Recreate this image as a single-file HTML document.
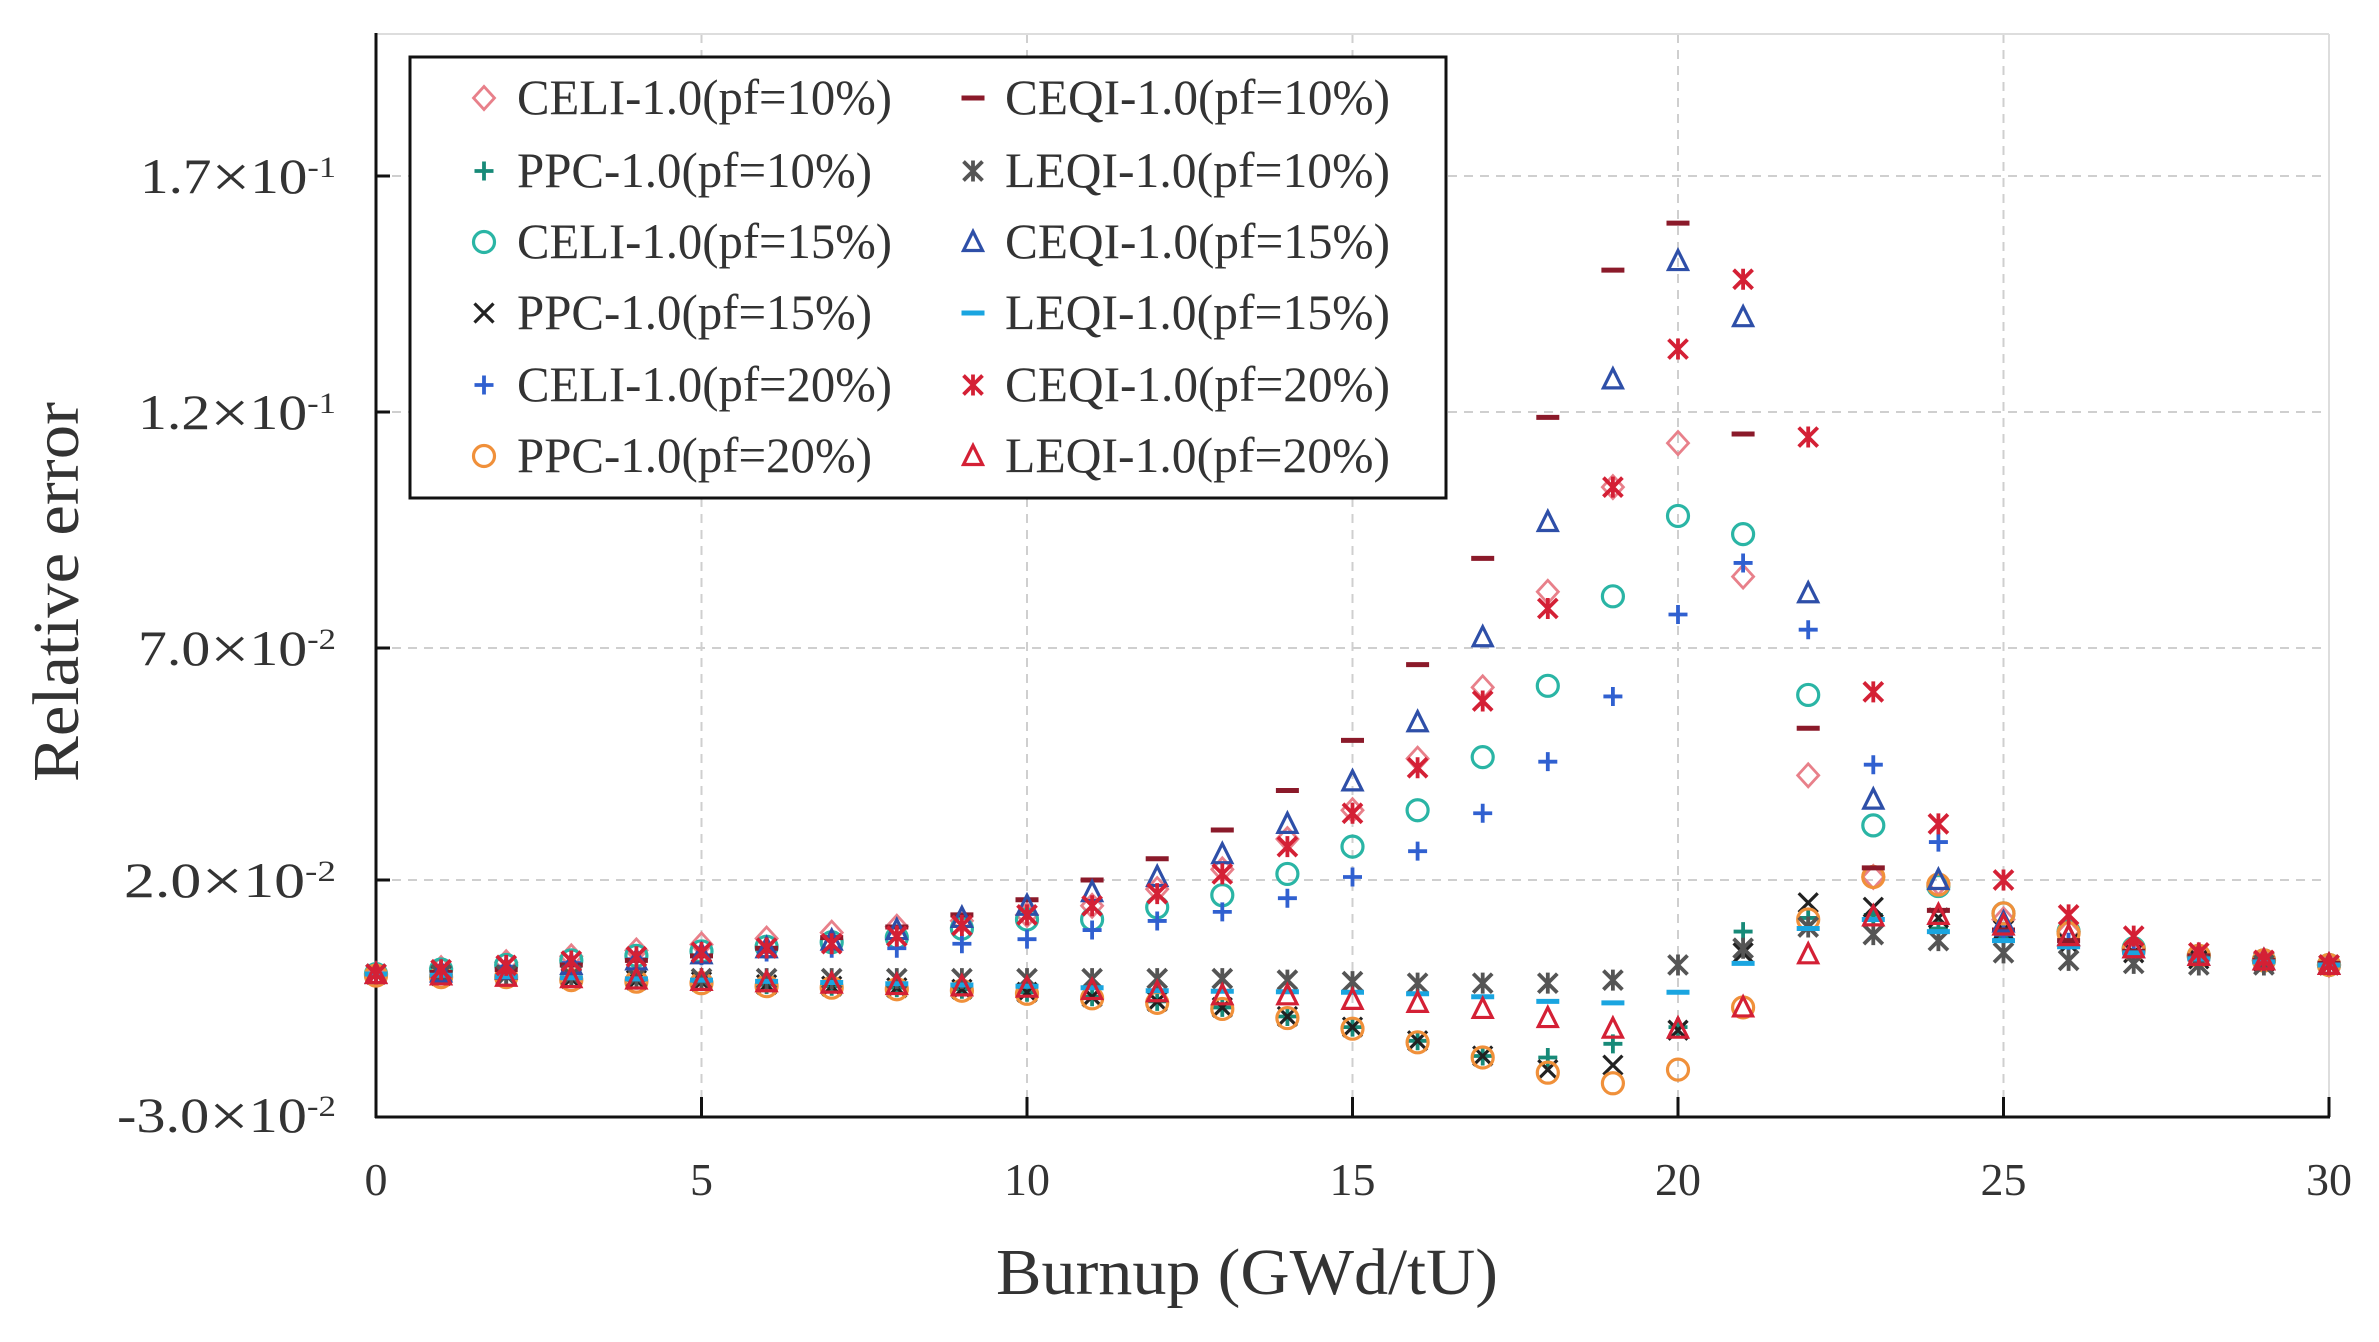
<!DOCTYPE html>
<html><head><meta charset="utf-8"><style>
html,body{margin:0;padding:0;background:#fff;}
svg{display:block;}
text{font-family:"Liberation Serif",serif;fill:#333;}
</style></head><body>
<svg id="s" width="2379" height="1342" xmlns="http://www.w3.org/2000/svg"></svg>
<script>
const S=document.getElementById('s');let h='';
const X=b=>376+b*65.1, Y=p=>880+(p-580)*1.517;
h+='<g stroke="#cfcfcf" stroke-width="2" stroke-dasharray="9,7" fill="none">';
for(const b of [5,10,15,20,25]) h+=`<line x1="${X(b)}" y1="34" x2="${X(b)}" y2="1117"/>`;
for(const y of [176,412,648,880]) h+=`<line x1="376" y1="${y}" x2="2329" y2="${y}"/>`;
h+='</g>';
h+='<line x1="376" y1="34" x2="2329" y2="34" stroke="#ddd" stroke-width="2"/><line x1="2329" y1="34" x2="2329" y2="1117" stroke="#ddd" stroke-width="2"/>';
h+='<line x1="376" y1="33" x2="376" y2="1118" stroke="#111" stroke-width="3"/><line x1="375" y1="1117" x2="2330" y2="1117" stroke="#111" stroke-width="3"/>';
for(const b of [5,10,15,20,25,30]) h+=`<line x1="${X(b)}" y1="1117" x2="${X(b)}" y2="1097" stroke="#111" stroke-width="3"/>`;
for(const y of [176,412,648,880]) h+=`<line x1="376" y1="${y}" x2="390" y2="${y}" stroke="#111" stroke-width="3"/>`;
const yl=[[176,'1.7','-1',140],[412,'1.2','-1',138],[648,'7.0','-2',138],[880,'2.0','-2',124],[1115,'-3.0','-2',117]];
for(const [y,m,e,x0] of yl) h+=`<text x="${x0}" y="${y+17}" font-size="50" textLength="${336-x0}" lengthAdjust="spacingAndGlyphs">${m}<tspan font-size="60" dy="4">×</tspan><tspan dy="-4">10</tspan><tspan font-size="30" dy="-16">${e}</tspan></text>`;
for(const b of [0,5,10,15,20,25,30]) h+=`<text x="${X(b)}" y="1195" font-size="46" text-anchor="middle">${b}</text>`;
h+='<text x="1247" y="1294" font-size="66" text-anchor="middle" textLength="502" lengthAdjust="spacingAndGlyphs">Burnup (GWd/tU)</text>';
h+='<text transform="translate(78,592) rotate(-90)" font-size="66" text-anchor="middle" textLength="380" lengthAdjust="spacingAndGlyphs">Relative error</text>';
function mk(t,x,y,c){const r=9.5;switch(t){
case 'dia':return `<path d="M${x} ${y-r-2}L${x+r+1} ${y}L${x} ${y+r+2}L${x-r-1} ${y}Z" fill="none" stroke="${c}" stroke-width="2.8"/>`;
case 'plus':return `<path d="M${x-r} ${y}H${x+r}M${x} ${y-r}V${y+r}" stroke="${c}" stroke-width="3.8"/>`;
case 'circ':return `<circle cx="${x}" cy="${y}" r="${r+1}" fill="none" stroke="${c}" stroke-width="3.2"/>`;
case 'x':return `<path d="M${x-r} ${y-r}L${x+r} ${y+r}M${x+r} ${y-r}L${x-r} ${y+r}" stroke="${c}" stroke-width="3.2"/>`;
case 'dash':return `<path d="M${x-r-2} ${y}H${x+r+2}" stroke="${c}" stroke-width="5"/>`;
case 'ast':return `<path d="M${x-r} ${y-r}L${x+r} ${y+r}M${x+r} ${y-r}L${x-r} ${y+r}M${x} ${y-r-1}V${y+r+1}" stroke="${c}" stroke-width="3.8"/>`;
case 'tri':return `<path d="M${x} ${y-r-1}L${x+r} ${y+r-1}L${x-r} ${y+r-1}Z" fill="none" stroke="${c}" stroke-width="3.2"/>`;}}
function fill(o){const k=Object.keys(o).map(Number).sort((a,b)=>a-b);const a=[];for(let i=0;i<=30;i++){if(o[i]!==undefined){a.push(o[i]);continue;}let lo=k.filter(v=>v<i).pop(),hi=k.find(v=>v>i);a.push(o[lo]+(o[hi]-o[lo])*(i-lo)/(hi-lo));}return a;}
const ppc10={0:642,1:643,2:643,3:645,4:646,5:647,6:649,7:650,8:651,9:652,10:654,11:657,12:660,13:664,14:670,15:677,16:686,17:696,18:697,19:688,20:677,21:614,22:605,23:603,24:612,25:618,26:622,27:628,28:632,29:634,30:636};
const ppc15=Object.assign({},ppc10,{18:705,19:702,20:679,21:628,22:595,23:598,24:605,25:613,26:622});
const ppc20={};for(let i=0;i<=17;i++)ppc20[i]=ppc10[i]+1;Object.assign(ppc20,{18:707,19:714,20:705,21:664,22:606,23:578,24:583,25:602,26:615,27:626,28:630,29:633,30:636});
const series=[
['dia','#e8808a',{0:642,10:603,11:597,12:586,13:573,14:553,15:534,16:500,17:453,18:390,19:321,20:292,21:380,22:511,23:578,24:582,25:606,26:614,27:625,28:630,29:633,30:636}],
['plus','#178a78',ppc10],
['circ','#2ab5a5',{0:642,8:618,9:612,10:606,11:606,12:598,13:590,14:576,15:558,16:534,17:499,18:452,19:393,20:340,21:352,22:458,23:544,24:584,25:602,26:614,27:625,28:630,29:633,30:636}],
['x','#222',ppc15],
['plus','#3060d0',{0:642,7:625,8:625,9:622,10:619,11:613,12:607,13:601,14:592,15:578,16:561,17:536,18:502,19:459,20:405,21:371,22:415,23:504,24:555,25:616,26:621,27:628,28:630,29:633,30:636}],
['circ','#f0903a',ppc20],
['dash','#8b1a2a',{0:642,1:641,2:639,3:636,4:633,5:630,6:625,7:618,8:611,9:603,10:593,11:580,12:566,13:547,14:521,15:488,16:438,17:368,18:275,19:178,20:147,21:286,22:480,23:572,24:600,25:613,26:620,27:627,28:630,29:633,30:635}],
['ast','#555',{0:642,3:643,4:644,5:645,13:645,14:646,15:647,16:648,17:648,18:648,19:646,20:636,21:625,22:611,23:616,24:620,25:628,26:633,27:635,28:636,29:636,30:636}],
['tri','#2e4fa8',{0:642,1:641,2:639,3:636,4:633,5:629,6:625,7:620,8:613,9:605,10:597,11:588,12:578,13:563,14:543,15:515,16:476,17:420,18:344,19:250,20:172,21:209,22:391,23:527,24:580,25:608,26:617,27:625,28:630,29:633,30:636}],
['dash','#1aa5e0',{0:642,10:650,11:651,12:653,15:654,16:655,17:657,18:660,19:661,20:654,21:635,22:612,23:606,24:614,25:620,26:624,27:628,28:632,29:634,30:636}],
['ast','#d42035',{0:642,7:622,8:617,9:610,10:603,11:597,12:589,13:576,14:558,15:536,16:506,17:462,18:401,19:321,20:230,21:184,22:288,23:456,24:543,25:580,26:603,27:617,28:628,29:633,30:636}],
['tri','#d42035',{0:642,10:651,12:654,13:656,14:656,15:659,16:661,17:665,18:671,19:678,20:678,21:664,22:629,23:604,24:603,25:610,26:617,27:625,28:630,29:633,30:636}]
];
for(const [t,c,o] of series){const a=fill(o);a.forEach((p,i)=>{h+=mk(t,X(i),Y(p),c);});}
h+='<rect x="410" y="57" width="1036" height="441" fill="#fff" stroke="#111" stroke-width="3"/>';
const labs=['CELI-1.0(pf=10%)','PPC-1.0(pf=10%)','CELI-1.0(pf=15%)','PPC-1.0(pf=15%)','CELI-1.0(pf=20%)','PPC-1.0(pf=20%)','CEQI-1.0(pf=10%)','LEQI-1.0(pf=10%)','CEQI-1.0(pf=15%)','LEQI-1.0(pf=15%)','CEQI-1.0(pf=20%)','LEQI-1.0(pf=20%)'];
const rows=[98,171,242,313,385,456];
labs.forEach((l,i)=>{const col=i<6?0:1,r=i%6;const mx=col?973:484,tx=col?1005:517,y=rows[r];const s=series[col?6+r:r];
const ppc=l.startsWith('PPC');const w=(col?385:375)-(ppc?(col?0:20):0);
h+=mk(s[0],mx,y,s[1]);h+=`<text x="${tx}" y="${y+16}" font-size="50" textLength="${w}" lengthAdjust="spacingAndGlyphs">${l}</text>`;});
S.innerHTML=h;
</script>
</body></html>
